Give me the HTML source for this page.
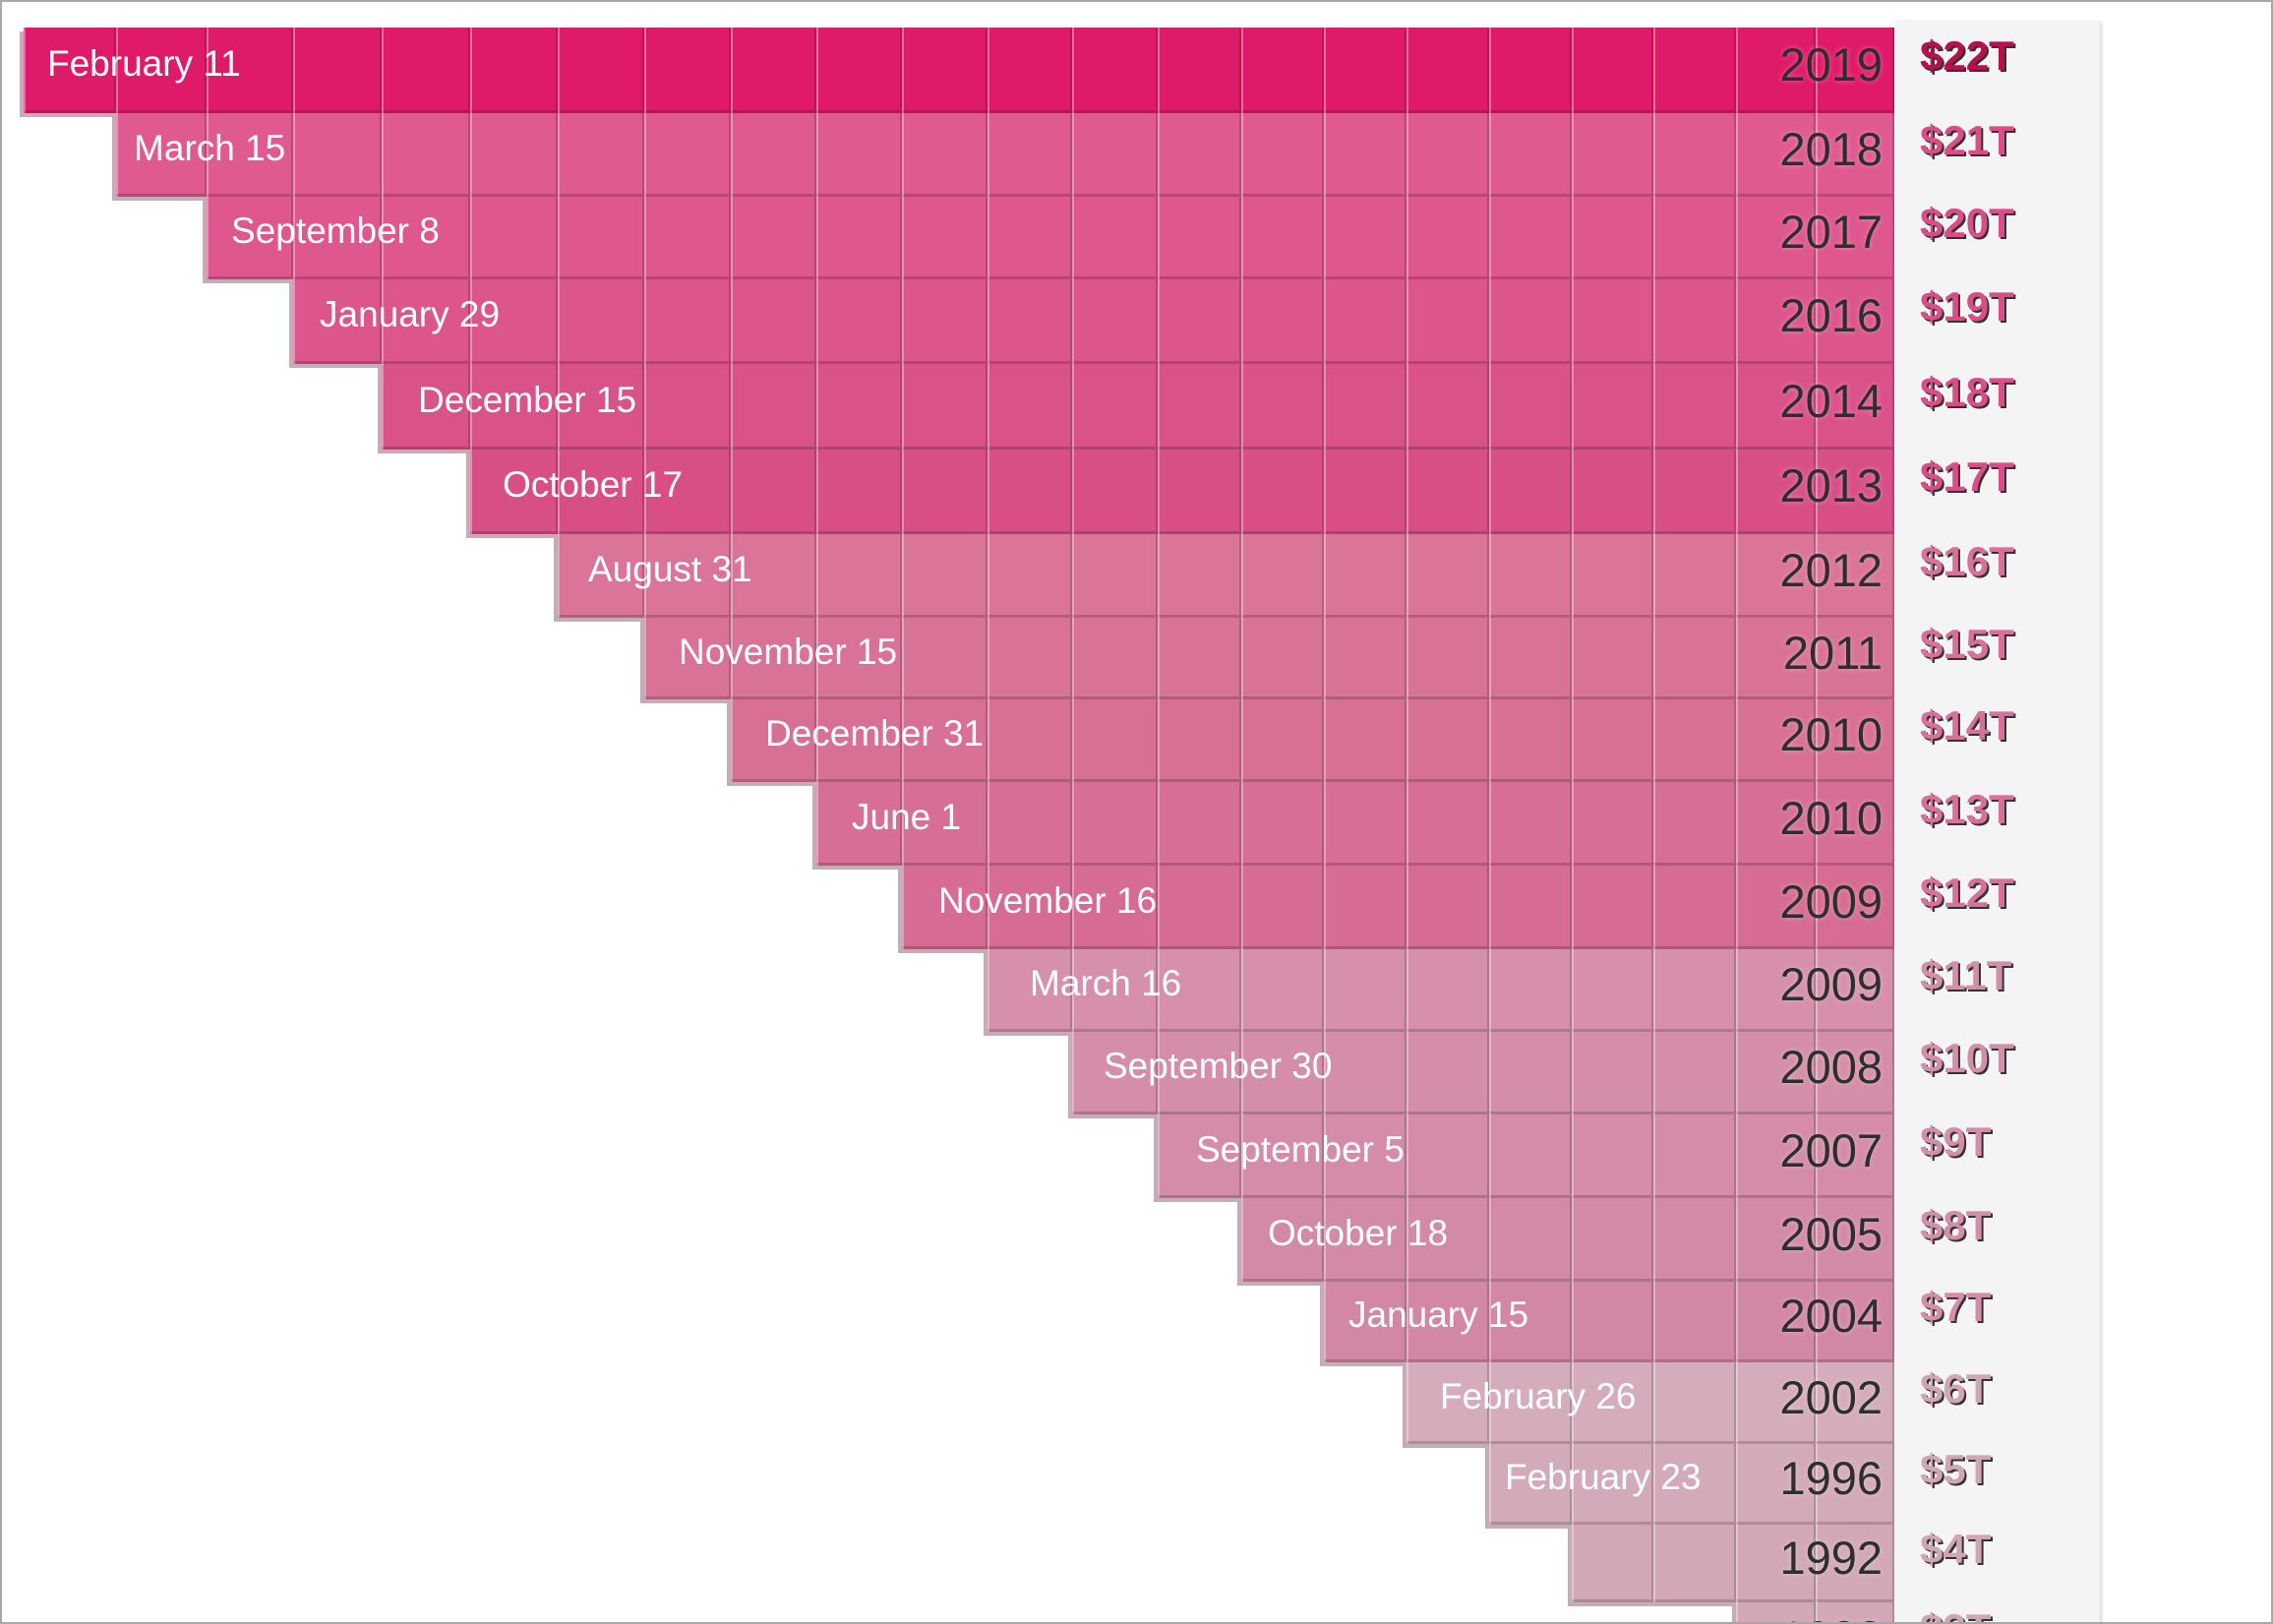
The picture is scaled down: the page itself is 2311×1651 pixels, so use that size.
<!DOCTYPE html>
<html><head><meta charset="utf-8"><style>
html,body{margin:0;padding:0;background:#fff;}
#c{position:relative;width:2311px;height:1651px;overflow:hidden;background:#fff;box-sizing:border-box;border:2px solid #a8a8a8;}
#panel{position:absolute;left:1924px;top:20px;width:209px;height:1640px;background:#f4f4f4;box-shadow:2px 0 3px rgba(0,0,0,.15);}
.cell{position:absolute;box-sizing:border-box;box-shadow:inset 2px 0 0 rgba(255,255,255,.35),inset -2px -3px 0 rgba(0,0,0,.18);}
.side{position:absolute;box-sizing:border-box;}
.d{position:absolute;color:#fff;font-family:"Liberation Sans",sans-serif;font-size:37px;white-space:nowrap;line-height:1;}
.y{position:absolute;color:#2e2e2e;font-family:"Liberation Sans",sans-serif;font-size:47px;white-space:nowrap;line-height:1;text-align:right;width:200px;text-shadow:0 0 6px rgba(255,255,255,.35);}
.v{position:absolute;font-family:"Liberation Sans",sans-serif;font-weight:bold;font-size:42px;white-space:nowrap;line-height:1;text-shadow:2px 2px 0 #333;}
</style></head><body><div id="c">
<div id="panel"></div>
<div id="g"></div>
<div id="t">
<div class="d" style="left:46px">February 11</div>
<div class="d" style="left:134px">March 15</div>
<div class="d" style="left:233px">September 8</div>
<div class="d" style="left:323px">January 29</div>
<div class="d" style="left:423px">December 15</div>
<div class="d" style="left:509px">October 17</div>
<div class="d" style="left:596px">August 31</div>
<div class="d" style="left:688px">November 15</div>
<div class="d" style="left:776px">December 31</div>
<div class="d" style="left:864px">June 1</div>
<div class="d" style="left:952px">November 16</div>
<div class="d" style="left:1045px">March 16</div>
<div class="d" style="left:1120px">September 30</div>
<div class="d" style="left:1214px">September 5</div>
<div class="d" style="left:1287px">October 18</div>
<div class="d" style="left:1369px">January 15</div>
<div class="d" style="left:1462px">February 26</div>
<div class="d" style="left:1528px">February 23</div>
</div>
<div id="yy"></div>
<div id="vv"></div>
</div>
<script>
var cols=[22,116,208,296,386,476,565,653,741,828,915,1002,1088,1175,1260,1344,1428,1512,1596,1679,1763,1844,1924];
var tops=[26,113,198,282,368,455,541,626,709,793,878,963,1047,1131,1216,1301,1383,1466,1548,1627,1710];
var N=20;
var colors=['#e01a6a','#df5a90','#de578e','#dc558c','#da528a','#d84f88','#da7499','#d97297','#d87096','#d76e95','#d66c93','#d690ab','#d58ea9','#d48ca8','#d38aa6','#d288a5','#d4acbb','#d3aab9','#d2a8b8','#d2a8b8'];
var vcol=['#b8104f','#d94d88','#d94d88','#d94d88','#d94d88','#d94d88','#d9709a','#d9709a','#d9709a','#d9709a','#d9709a','#d38eaa','#d38eaa','#d38eaa','#d38eaa','#d38eaa','#d0a6b6','#d0a6b6','#d0a6b6','#d0a6b6'];
var years=['2019','2018','2017','2016','2014','2013','2012','2011','2010','2010','2009','2009','2008','2007','2005','2004','2002','1996','1992','1988'];
var starts=[0,1,2,3,4,5,6,7,8,9,10,11,12,13,14,15,16,17,18,20];
var h='',y='',v='';
for(var r=0;r<N;r++){
 var t=tops[r],b=tops[r+1],s=starts[r],m=(t+b)/2;
 h+='<div class="side" style="left:'+(cols[s]-4)+'px;top:'+(t+4)+'px;width:'+(1924-cols[s]+4)+'px;height:'+(b-t)+'px;background:rgba(90,20,50,.35)"></div>';
 for(var c=s;c<cols.length-1;c++){
  h+='<div class="cell" style="left:'+cols[c]+'px;top:'+t+'px;width:'+(cols[c+1]-cols[c])+'px;height:'+(b-t)+'px;background:'+colors[r]+'"></div>';
 }
 y+='<div class="y" style="left:1712px;top:'+(m-30)+'px">'+years[r]+'</div>';
 v+='<div class="v" style="left:1950px;top:'+(m-36)+'px;color:'+vcol[r]+'">$'+(22-r)+'T</div>';
}
document.getElementById('g').innerHTML=h;
document.getElementById('yy').innerHTML=y;
document.getElementById('vv').innerHTML=v;
var ds=document.querySelectorAll('.d');
for(var k=0;k<ds.length;k++){ds[k].style.top=((tops[k]+tops[k+1])/2-26)+'px';}
</script>
</body></html>
